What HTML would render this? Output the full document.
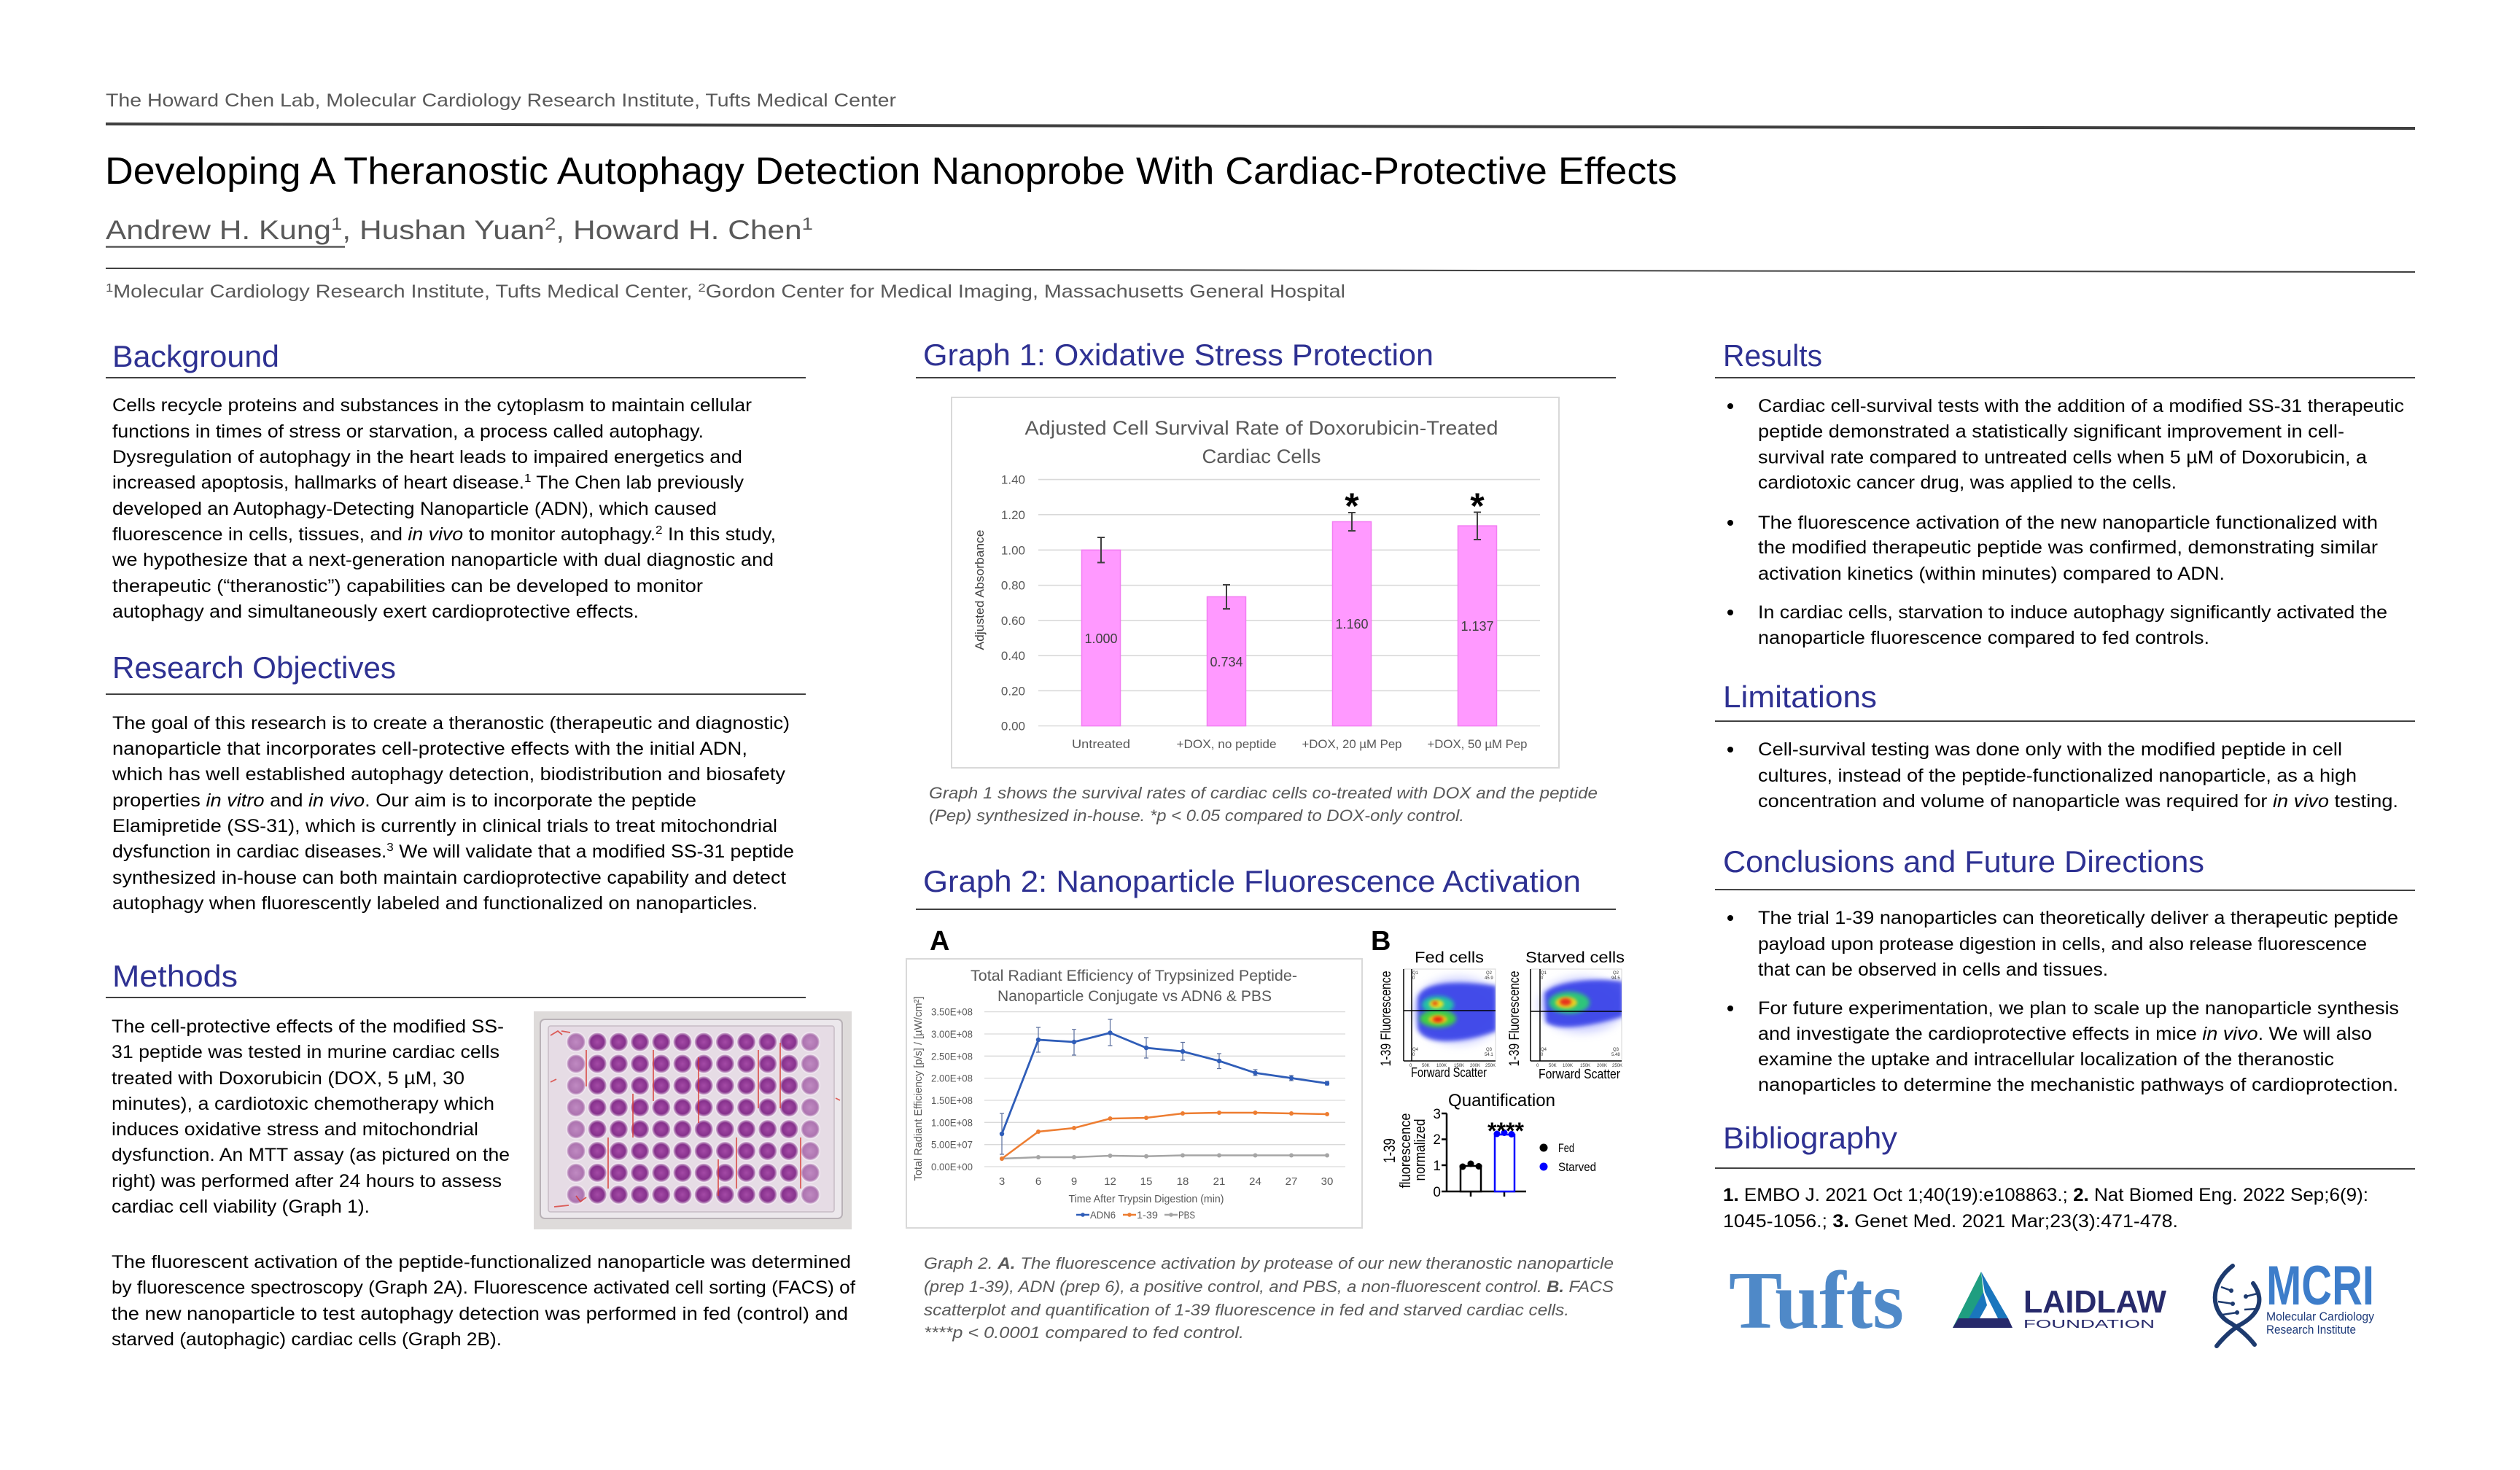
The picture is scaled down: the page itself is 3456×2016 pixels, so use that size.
<!DOCTYPE html>
<html><head><meta charset="utf-8">
<style>
html,body{margin:0;padding:0;background:#fff;}
svg{display:block;}
text{font-family:"Liberation Sans",sans-serif;}
.b{font-size:25px;fill:#000;}
.h{font-size:42px;fill:#2E3192;}
.cap{font-size:22px;fill:#595959;font-style:italic;}
.g{fill:#595959;}
</style></head>
<body>
<svg width="3456" height="2016" viewBox="0 0 3456 2016" xmlns="http://www.w3.org/2000/svg">
<defs>
<filter id="bl6" x="-30%" y="-30%" width="160%" height="160%"><feGaussianBlur stdDeviation="6"/></filter>
<filter id="bl3" x="-30%" y="-30%" width="160%" height="160%"><feGaussianBlur stdDeviation="3"/></filter>
<filter id="bl2" x="-30%" y="-30%" width="160%" height="160%"><feGaussianBlur stdDeviation="2"/></filter>
<clipPath id="cf"><rect x="1926" y="1330" width="125" height="125"/></clipPath>
<clipPath id="cs"><rect x="2100" y="1330" width="124" height="125"/></clipPath>
<radialGradient id="well" cx="50%" cy="50%" r="50%">
<stop offset="0%" stop-color="#a44aa6"/><stop offset="68%" stop-color="#86318c"/><stop offset="100%" stop-color="#e3d2e3"/>
</radialGradient>
<radialGradient id="wellL" cx="50%" cy="50%" r="50%">
<stop offset="0%" stop-color="#c08ac2"/><stop offset="75%" stop-color="#ad74b0"/><stop offset="100%" stop-color="#e6d8e6"/>
</radialGradient>
</defs>
<rect width="3456" height="2016" fill="#fff"/>

<!-- HEADER -->
<text x="145" y="146" font-size="25" class="g" textLength="1084" lengthAdjust="spacingAndGlyphs">The Howard Chen Lab, Molecular Cardiology Research Institute, Tufts Medical Center</text>
<line x1="145" y1="170" x2="3312" y2="176" stroke="#404040" stroke-width="4"/>
<text x="144" y="252" font-size="52" fill="#000" textLength="2156" lengthAdjust="spacingAndGlyphs">Developing A Theranostic Autophagy Detection Nanoprobe With Cardiac-Protective Effects</text>
<text x="145" y="328" font-size="37" class="g" textLength="970" lengthAdjust="spacingAndGlyphs">Andrew H. Kung<tspan dy="-13" font-size="24">1</tspan><tspan dy="13">, Hushan Yuan</tspan><tspan dy="-13" font-size="24">2</tspan><tspan dy="13">, Howard H. Chen</tspan><tspan dy="-13" font-size="24">1</tspan></text>
<line x1="145" y1="338.5" x2="473" y2="338.5" stroke="#595959" stroke-width="2.5"/>
<line x1="145" y1="368" x2="3312" y2="373" stroke="#404040" stroke-width="2"/>
<text x="145" y="408" font-size="25" class="g" textLength="1700" lengthAdjust="spacingAndGlyphs"><tspan dy="-8" font-size="16">1</tspan><tspan dy="8">Molecular Cardiology Research Institute, Tufts Medical Center, </tspan><tspan dy="-8" font-size="16">2</tspan><tspan dy="8">Gordon Center for Medical Imaging, Massachusetts General Hospital</tspan></text>

<!-- LEFT COLUMN -->
<text x="154" y="503" class="h" textLength="229" lengthAdjust="spacingAndGlyphs">Background</text>
<line x1="145" y1="518" x2="1105" y2="518" stroke="#404040" stroke-width="2"/>
<text x="154" y="564" class="b" textLength="877" lengthAdjust="spacingAndGlyphs">Cells recycle proteins and substances in the cytoplasm to maintain cellular</text>
<text x="154" y="600" class="b" textLength="811" lengthAdjust="spacingAndGlyphs">functions in times of stress or starvation, a process called autophagy.</text>
<text x="154" y="635" class="b" textLength="864" lengthAdjust="spacingAndGlyphs">Dysregulation of autophagy in the heart leads to impaired energetics and</text>
<text x="154" y="670" class="b" textLength="866" lengthAdjust="spacingAndGlyphs">increased apoptosis, hallmarks of heart disease.<tspan dy="-9" font-size="16">1</tspan><tspan dy="9"> The Chen lab previously</tspan></text>
<text x="154" y="706" class="b" textLength="829" lengthAdjust="spacingAndGlyphs">developed an Autophagy-Detecting Nanoparticle (ADN), which caused</text>
<text x="154" y="741" class="b" textLength="910" lengthAdjust="spacingAndGlyphs">fluorescence in cells, tissues, and <tspan font-style="italic">in vivo</tspan> to monitor autophagy.<tspan dy="-9" font-size="16">2</tspan><tspan dy="9"> In this study,</tspan></text>
<text x="154" y="776" class="b" textLength="907" lengthAdjust="spacingAndGlyphs">we hypothesize that a next-generation nanoparticle with dual diagnostic and</text>
<text x="154" y="812" class="b" textLength="810" lengthAdjust="spacingAndGlyphs">therapeutic (“theranostic”) capabilities can be developed to monitor</text>
<text x="154" y="847" class="b" textLength="722" lengthAdjust="spacingAndGlyphs">autophagy and simultaneously exert cardioprotective effects.</text>

<text x="154" y="930" class="h" textLength="389" lengthAdjust="spacingAndGlyphs">Research Objectives</text>
<line x1="145" y1="952" x2="1105" y2="952" stroke="#404040" stroke-width="2"/>
<text x="154" y="1000" class="b" textLength="929" lengthAdjust="spacingAndGlyphs">The goal of this research is to create a theranostic (therapeutic and diagnostic)</text>
<text x="154" y="1035" class="b" textLength="871" lengthAdjust="spacingAndGlyphs">nanoparticle that incorporates cell-protective effects with the initial ADN,</text>
<text x="154" y="1070" class="b" textLength="923" lengthAdjust="spacingAndGlyphs">which has well established autophagy detection, biodistribution and biosafety</text>
<text x="154" y="1106" class="b" textLength="801" lengthAdjust="spacingAndGlyphs">properties <tspan font-style="italic">in vitro</tspan> and <tspan font-style="italic">in vivo</tspan>. Our aim is to incorporate the peptide</text>
<text x="154" y="1141" class="b" textLength="912" lengthAdjust="spacingAndGlyphs">Elamipretide (SS-31), which is currently in clinical trials to treat mitochondrial</text>
<text x="154" y="1176" class="b" textLength="935" lengthAdjust="spacingAndGlyphs">dysfunction in cardiac diseases.<tspan dy="-9" font-size="16">3</tspan><tspan dy="9"> We will validate that a modified SS-31 peptide</tspan></text>
<text x="154" y="1212" class="b" textLength="924" lengthAdjust="spacingAndGlyphs">synthesized in-house can both maintain cardioprotective capability and detect</text>
<text x="154" y="1247" class="b" textLength="885" lengthAdjust="spacingAndGlyphs">autophagy when fluorescently labeled and functionalized on nanoparticles.</text>

<text x="154" y="1353" class="h" textLength="172" lengthAdjust="spacingAndGlyphs">Methods</text>
<line x1="145" y1="1368" x2="1105" y2="1368" stroke="#404040" stroke-width="2"/>
<text x="153" y="1416" class="b" textLength="538" lengthAdjust="spacingAndGlyphs">The cell-protective effects of the modified SS-</text>
<text x="153" y="1451" class="b" textLength="532" lengthAdjust="spacingAndGlyphs">31 peptide was tested in murine cardiac cells</text>
<text x="153" y="1487" class="b" textLength="484" lengthAdjust="spacingAndGlyphs">treated with Doxorubicin (DOX, 5 µM, 30</text>
<text x="153" y="1522" class="b" textLength="525" lengthAdjust="spacingAndGlyphs">minutes), a cardiotoxic chemotherapy which</text>
<text x="153" y="1557" class="b" textLength="503" lengthAdjust="spacingAndGlyphs">induces oxidative stress and mitochondrial</text>
<text x="153" y="1592" class="b" textLength="546" lengthAdjust="spacingAndGlyphs">dysfunction. An MTT assay (as pictured on the</text>
<text x="153" y="1628" class="b" textLength="535" lengthAdjust="spacingAndGlyphs">right) was performed after 24 hours to assess</text>
<text x="153" y="1663" class="b" textLength="354" lengthAdjust="spacingAndGlyphs">cardiac cell viability (Graph 1).</text>
<text x="153" y="1739" class="b" textLength="1014" lengthAdjust="spacingAndGlyphs">The fluorescent activation of the peptide-functionalized nanoparticle was determined</text>
<text x="153" y="1774" class="b" textLength="1020" lengthAdjust="spacingAndGlyphs">by fluorescence spectroscopy (Graph 2A). Fluorescence activated cell sorting (FACS) of</text>
<text x="153" y="1810" class="b" textLength="1010" lengthAdjust="spacingAndGlyphs">the new nanoparticle to test autophagy detection was performed in fed (control) and</text>
<text x="153" y="1845" class="b" textLength="535" lengthAdjust="spacingAndGlyphs">starved (autophagic) cardiac cells (Graph 2B).</text>

<!-- Plate photo -->
<rect x="732" y="1387" width="436" height="299" fill="#dedbda"/>
<rect x="741" y="1398" width="414" height="273" rx="6" fill="#ece8ec" stroke="#b9b2b7" stroke-width="2"/>
<rect x="752" y="1407" width="392" height="255" rx="3" fill="#e6dce5" stroke="#c7bcc5" stroke-width="1.5"/>
<g id="wells"></g>

<!-- MIDDLE COLUMN -->
<text x="1266" y="501" class="h" textLength="700" lengthAdjust="spacingAndGlyphs">Graph 1: Oxidative Stress Protection</text>
<line x1="1256" y1="518" x2="2216" y2="518" stroke="#404040" stroke-width="2"/>
<rect x="1305" y="545" width="833" height="508" fill="#fff" stroke="#d9d9d9" stroke-width="2"/>
<text x="1730" y="596" font-size="27" class="g" text-anchor="middle" textLength="649" lengthAdjust="spacingAndGlyphs">Adjusted Cell Survival Rate of Doxorubicin-Treated</text>
<text x="1730" y="635" font-size="27" class="g" text-anchor="middle" textLength="163" lengthAdjust="spacingAndGlyphs">Cardiac Cells</text>
<g stroke="#d9d9d9" stroke-width="1.6">
<line x1="1424" y1="657.6" x2="2112" y2="657.6"/><line x1="1424" y1="705.8" x2="2112" y2="705.8"/>
<line x1="1424" y1="754.3" x2="2112" y2="754.3"/><line x1="1424" y1="802.7" x2="2112" y2="802.7"/>
<line x1="1424" y1="850.9" x2="2112" y2="850.9"/><line x1="1424" y1="899.1" x2="2112" y2="899.1"/>
<line x1="1424" y1="947.3" x2="2112" y2="947.3"/><line x1="1424" y1="995.5" x2="2112" y2="995.5"/>
</g>
<g font-size="17" class="g" text-anchor="end">
<text x="1406" y="663.6">1.40</text><text x="1406" y="711.8">1.20</text><text x="1406" y="760.3">1.00</text>
<text x="1406" y="808.7">0.80</text><text x="1406" y="856.9">0.60</text><text x="1406" y="905.1">0.40</text>
<text x="1406" y="953.3">0.20</text><text x="1406" y="1001.5">0.00</text>
</g>
<text transform="translate(1349,809) rotate(-90)" text-anchor="middle" font-size="17" fill="#404040" textLength="165" lengthAdjust="spacingAndGlyphs">Adjusted Absorbance</text>
<g fill="#FF99FF" stroke="#F27DF2" stroke-width="1.5">
<rect x="1483.5" y="754.3" width="53" height="241.2"/>
<rect x="1655.5" y="818.4" width="53" height="177.1"/>
<rect x="1827.5" y="715.5" width="53" height="280"/>
<rect x="1999.5" y="721.1" width="53" height="274.4"/>
</g>
<g stroke="#404040" stroke-width="2">
<line x1="1510" y1="737" x2="1510" y2="771.5"/><line x1="1505" y1="737" x2="1515" y2="737"/><line x1="1505" y1="771.5" x2="1515" y2="771.5"/>
<line x1="1682" y1="802" x2="1682" y2="835"/><line x1="1677" y1="802" x2="1687" y2="802"/><line x1="1677" y1="835" x2="1687" y2="835"/>
<line x1="1854" y1="703" x2="1854" y2="728"/><line x1="1849" y1="703" x2="1859" y2="703"/><line x1="1849" y1="728" x2="1859" y2="728"/>
<line x1="2026" y1="702.5" x2="2026" y2="740"/><line x1="2021" y1="702.5" x2="2031" y2="702.5"/><line x1="2021" y1="740" x2="2031" y2="740"/>
</g>
<g font-size="18" fill="#404040" text-anchor="middle">
<text x="1510" y="882">1.000</text><text x="1682" y="914">0.734</text><text x="1854" y="862">1.160</text><text x="2026" y="865">1.137</text>
</g>
<g font-size="50" font-weight="bold" fill="#000" text-anchor="middle">
<text x="1854" y="711">*</text><text x="2026" y="711">*</text>
</g>
<g font-size="17" class="g" text-anchor="middle">
<text x="1510" y="1026" textLength="80" lengthAdjust="spacingAndGlyphs">Untreated</text>
<text x="1682" y="1026" textLength="137" lengthAdjust="spacingAndGlyphs">+DOX, no peptide</text>
<text x="1854" y="1026" textLength="137" lengthAdjust="spacingAndGlyphs">+DOX, 20 µM Pep</text>
<text x="2026" y="1026" textLength="137" lengthAdjust="spacingAndGlyphs">+DOX, 50 µM Pep</text>
</g>
<text x="1274" y="1095" class="cap" textLength="917" lengthAdjust="spacingAndGlyphs">Graph 1 shows the survival rates of cardiac cells co-treated with DOX and the peptide</text>
<text x="1274" y="1126" class="cap" textLength="734" lengthAdjust="spacingAndGlyphs">(Pep) synthesized in-house. *p &lt; 0.05 compared to DOX-only control.</text>

<text x="1266" y="1223" class="h" textLength="902" lengthAdjust="spacingAndGlyphs">Graph 2: Nanoparticle Fluorescence Activation</text>
<line x1="1256" y1="1247" x2="2216" y2="1247" stroke="#404040" stroke-width="2"/>
<text x="1275" y="1303" font-size="38" font-weight="bold" fill="#000">A</text>
<text x="1880" y="1303" font-size="38" font-weight="bold" fill="#000">B</text>

<!-- Chart A -->
<rect x="1243" y="1315" width="625" height="369" fill="#fff" stroke="#d9d9d9" stroke-width="2"/>
<text x="1331" y="1345" font-size="21" class="g" textLength="448" lengthAdjust="spacingAndGlyphs">Total Radiant Efficiency of Trypsinized Peptide-</text>
<text x="1368" y="1373" font-size="21" class="g" textLength="376" lengthAdjust="spacingAndGlyphs">Nanoparticle Conjugate vs ADN6 &amp; PBS</text>
<g stroke="#d9d9d9" stroke-width="1.3">
<line x1="1350" y1="1387.6" x2="1845" y2="1387.6"/><line x1="1350" y1="1418" x2="1845" y2="1418"/>
<line x1="1350" y1="1448.3" x2="1845" y2="1448.3"/><line x1="1350" y1="1478.6" x2="1845" y2="1478.6"/>
<line x1="1350" y1="1509" x2="1845" y2="1509"/><line x1="1350" y1="1539.3" x2="1845" y2="1539.3"/>
<line x1="1350" y1="1569.7" x2="1845" y2="1569.7"/><line x1="1350" y1="1600" x2="1845" y2="1600"/>
</g>
<g font-size="14" class="g" text-anchor="end">
<text x="1334" y="1392.6" textLength="57" lengthAdjust="spacingAndGlyphs">3.50E+08</text>
<text x="1334" y="1423" textLength="57" lengthAdjust="spacingAndGlyphs">3.00E+08</text>
<text x="1334" y="1453.3" textLength="57" lengthAdjust="spacingAndGlyphs">2.50E+08</text>
<text x="1334" y="1483.6" textLength="57" lengthAdjust="spacingAndGlyphs">2.00E+08</text>
<text x="1334" y="1514" textLength="57" lengthAdjust="spacingAndGlyphs">1.50E+08</text>
<text x="1334" y="1544.3" textLength="57" lengthAdjust="spacingAndGlyphs">1.00E+08</text>
<text x="1334" y="1574.7" textLength="57" lengthAdjust="spacingAndGlyphs">5.00E+07</text>
<text x="1334" y="1605" textLength="57" lengthAdjust="spacingAndGlyphs">0.00E+00</text>
</g>
<text transform="translate(1264,1493) rotate(-90)" text-anchor="middle" font-size="15" class="g" textLength="253" lengthAdjust="spacingAndGlyphs">Total Radiant Efficiency [p/s] / [µW/cm²]</text>
<g font-size="15" class="g" text-anchor="middle">
<text x="1374" y="1625">3</text><text x="1424" y="1625">6</text><text x="1473" y="1625">9</text><text x="1522.5" y="1625">12</text><text x="1572" y="1625">15</text>
<text x="1622" y="1625">18</text><text x="1672" y="1625">21</text><text x="1721.5" y="1625">24</text><text x="1771" y="1625">27</text><text x="1820" y="1625">30</text>
</g>
<text x="1572" y="1649" font-size="15" class="g" text-anchor="middle" textLength="213" lengthAdjust="spacingAndGlyphs">Time After Trypsin Digestion (min)</text>
<g stroke="#5b6f9e" stroke-width="1.2">
<path d="M1374 1527V1583M1371 1527h6M1371 1583h6 M1424 1409V1443M1421 1409h6M1421 1443h6 M1473 1411.7V1447M1470 1411.7h6M1470 1447h6 M1522.5 1398V1434M1519.5 1398h6M1519.5 1434h6 M1572 1423V1451M1569 1423h6M1569 1451h6 M1622 1429.5V1454M1619 1429.5h6M1619 1454h6 M1672 1445V1465.5M1669 1445h6M1669 1465.5h6 M1721.5 1467V1475M1718.5 1467h6M1718.5 1475h6 M1771 1475V1482M1768 1475h6M1768 1482h6 M1820 1483V1488M1817 1483h6M1817 1488h6"/>
</g>
<polyline fill="none" stroke="#A5A5A5" stroke-width="2.5" points="1374,1589 1424,1587 1473,1587 1522.5,1585 1572,1585.7 1622,1584.5 1672,1584.5 1721.5,1584.5 1771,1584.5 1820,1584.5"/>
<polyline fill="none" stroke="#ED7D31" stroke-width="2.5" points="1374,1589 1424,1552 1473,1547 1522.5,1534 1572,1533 1622,1527 1672,1526 1721.5,1526 1771,1527 1820,1528"/>
<polyline fill="none" stroke="#2F5DB8" stroke-width="2.8" points="1374,1555 1424,1426 1473,1429 1522.5,1416.5 1572,1437 1622,1442 1672,1455 1721.5,1471.4 1771,1478.5 1820,1485.7"/>
<g fill="#A5A5A5"><circle cx="1374" cy="1589" r="3"/><circle cx="1424" cy="1587" r="3"/><circle cx="1473" cy="1587" r="3"/><circle cx="1522.5" cy="1585" r="3"/><circle cx="1572" cy="1585.7" r="3"/><circle cx="1622" cy="1584.5" r="3"/><circle cx="1672" cy="1584.5" r="3"/><circle cx="1721.5" cy="1584.5" r="3"/><circle cx="1771" cy="1584.5" r="3"/><circle cx="1820" cy="1584.5" r="3"/></g>
<g fill="#ED7D31"><circle cx="1374" cy="1589" r="3"/><circle cx="1424" cy="1552" r="3"/><circle cx="1473" cy="1547" r="3"/><circle cx="1522.5" cy="1534" r="3"/><circle cx="1572" cy="1533" r="3"/><circle cx="1622" cy="1527" r="3"/><circle cx="1672" cy="1526" r="3"/><circle cx="1721.5" cy="1526" r="3"/><circle cx="1771" cy="1527" r="3"/><circle cx="1820" cy="1528" r="3"/></g>
<g fill="#2F5DB8"><circle cx="1374" cy="1555" r="3.2"/><circle cx="1424" cy="1426" r="3.2"/><circle cx="1473" cy="1429" r="3.2"/><circle cx="1522.5" cy="1416.5" r="3.2"/><circle cx="1572" cy="1437" r="3.2"/><circle cx="1622" cy="1442" r="3.2"/><circle cx="1672" cy="1455" r="3.2"/><circle cx="1721.5" cy="1471.4" r="3.2"/><circle cx="1771" cy="1478.5" r="3.2"/><circle cx="1820" cy="1485.7" r="3.2"/></g>
<line x1="1476" y1="1666" x2="1494" y2="1666" stroke="#2F5DB8" stroke-width="2.5"/><circle cx="1485" cy="1666" r="2.8" fill="#2F5DB8"/>
<text x="1495" y="1671" font-size="14" class="g" textLength="35" lengthAdjust="spacingAndGlyphs">ADN6</text>
<line x1="1540" y1="1666" x2="1558" y2="1666" stroke="#ED7D31" stroke-width="2.5"/><circle cx="1549" cy="1666" r="2.8" fill="#ED7D31"/>
<text x="1559" y="1671" font-size="14" class="g" textLength="29" lengthAdjust="spacingAndGlyphs">1-39</text>
<line x1="1597" y1="1666" x2="1615" y2="1666" stroke="#A5A5A5" stroke-width="2.5"/><circle cx="1606" cy="1666" r="2.8" fill="#A5A5A5"/>
<text x="1616" y="1671" font-size="14" class="g" textLength="23" lengthAdjust="spacingAndGlyphs">PBS</text>

<!-- B: FACS -->
<text x="1940" y="1320" font-size="21" fill="#000" textLength="95" lengthAdjust="spacingAndGlyphs">Fed cells</text>
<text x="2092" y="1320" font-size="21" fill="#000" textLength="136" lengthAdjust="spacingAndGlyphs">Starved cells</text>
<rect x="1925" y="1329" width="126" height="126" fill="#fff" stroke="#d5d5d5" stroke-width="1"/>
<rect x="2099" y="1329" width="125" height="126" fill="#fff" stroke="#d5d5d5" stroke-width="1"/>
<g clip-path="url(#cf)">
<ellipse cx="2000" cy="1386" rx="62" ry="46" fill="#b8bcff" opacity="0.7" filter="url(#bl6)"/>
<path d="M1944,1372 C1944,1348 1990,1343 2052,1352 L2052,1414 C2010,1430 1952,1436 1944,1410 Z" fill="#2a36e6" opacity="0.85" filter="url(#bl3)"/>
<ellipse cx="1972" cy="1378" rx="22" ry="12" fill="#22c3a6" filter="url(#bl3)"/>
<ellipse cx="1972" cy="1397" rx="25" ry="12" fill="#3fcf45" filter="url(#bl3)"/>
<ellipse cx="1970" cy="1377" rx="10" ry="6" fill="#e6e020" filter="url(#bl2)"/>
<ellipse cx="1972" cy="1398" rx="13" ry="6" fill="#f0c21e" filter="url(#bl2)"/>
<ellipse cx="1972" cy="1398" rx="7" ry="4" fill="#e82a10" filter="url(#bl2)"/>
<ellipse cx="1968" cy="1376" rx="4" ry="3" fill="#e24a12" filter="url(#bl2)"/>
</g>
<g clip-path="url(#cs)">
<ellipse cx="2170" cy="1378" rx="60" ry="38" fill="#b8bcff" opacity="0.7" filter="url(#bl6)"/>
<path d="M2118,1362 C2130,1346 2190,1340 2226,1346 L2226,1394 C2190,1405 2140,1416 2120,1402 Z" fill="#2a36e6" opacity="0.85" filter="url(#bl3)"/>
<ellipse cx="2152" cy="1375" rx="28" ry="15" fill="#2fc67a" filter="url(#bl3)"/>
<ellipse cx="2148" cy="1375" rx="15" ry="8" fill="#e8d020" filter="url(#bl2)"/>
<ellipse cx="2147" cy="1374" rx="8" ry="5" fill="#e8301a" filter="url(#bl2)"/>
</g>
<g stroke="#000" stroke-width="1.5">
<line x1="1925" y1="1386" x2="2051" y2="1386"/><line x1="1936" y1="1329" x2="1936" y2="1455"/>
<line x1="2099" y1="1387" x2="2224" y2="1387"/><line x1="2112" y1="1329" x2="2112" y2="1455"/>
<line x1="1925" y1="1329" x2="1925" y2="1455"/><line x1="1925" y1="1455" x2="2051" y2="1455"/>
<line x1="2099" y1="1329" x2="2099" y2="1455"/><line x1="2099" y1="1455" x2="2224" y2="1455"/>
</g>
<g font-size="6" fill="#333">
<text x="1937" y="1336">Q1</text><text x="1937" y="1343">0</text><text x="2038" y="1336">Q2</text><text x="2036" y="1343">45.9</text>
<text x="1937" y="1441">Q4</text><text x="1937" y="1448">0</text><text x="2038" y="1441">Q3</text><text x="2036" y="1448">54.1</text>
<text x="2113" y="1336">Q1</text><text x="2113" y="1343">0</text><text x="2212" y="1336">Q2</text><text x="2210" y="1343">94.5</text>
<text x="2113" y="1441">Q4</text><text x="2113" y="1448">0</text><text x="2212" y="1441">Q3</text><text x="2210" y="1448">5.48</text>
<text x="1933" y="1463">0</text><text x="1950" y="1463">50K</text><text x="1970" y="1463">100K</text><text x="1994" y="1463">150K</text><text x="2016" y="1463">200K</text><text x="2037" y="1463">250K</text>
<text x="2107" y="1463">0</text><text x="2124" y="1463">50K</text><text x="2143" y="1463">100K</text><text x="2167" y="1463">150K</text><text x="2190" y="1463">200K</text><text x="2211" y="1463">250K</text>
</g>
<text transform="translate(1907,1397) rotate(-90)" text-anchor="middle" font-size="19" fill="#000" textLength="131" lengthAdjust="spacingAndGlyphs">1-39 Fluorescence</text>
<text transform="translate(2083,1397) rotate(-90)" text-anchor="middle" font-size="19" fill="#000" textLength="131" lengthAdjust="spacingAndGlyphs">1-39 Fluorescence</text>
<text x="1935" y="1477" font-size="18" fill="#000" textLength="104" lengthAdjust="spacingAndGlyphs">Forward Scatter</text>
<text x="2110" y="1479" font-size="18" fill="#000" textLength="112" lengthAdjust="spacingAndGlyphs">Forward Scatter</text>

<!-- Quantification -->
<text x="1986" y="1517" font-size="24" fill="#000" textLength="147" lengthAdjust="spacingAndGlyphs">Quantification</text>
<g stroke="#000" stroke-width="2.5" fill="none">
<line x1="1984" y1="1527" x2="1984" y2="1634"/><line x1="1984" y1="1634" x2="2093" y2="1634"/>
<line x1="1977" y1="1527" x2="1984" y2="1527"/><line x1="1977" y1="1562.5" x2="1984" y2="1562.5"/>
<line x1="1977" y1="1598" x2="1984" y2="1598"/><line x1="1977" y1="1634" x2="1984" y2="1634"/>
<line x1="2017" y1="1634" x2="2017" y2="1641"/><line x1="2063" y1="1634" x2="2063" y2="1641"/>
<rect x="2003" y="1599" width="28" height="35" fill="#fff"/>
</g>
<rect x="2050" y="1556" width="27" height="78" fill="#fff" stroke="#0000ff" stroke-width="2.5"/>
<g font-size="19" fill="#000" text-anchor="end">
<text x="1976" y="1534">3</text><text x="1976" y="1569">2</text><text x="1976" y="1605">1</text><text x="1976" y="1641">0</text>
</g>
<g fill="#000"><circle cx="2006" cy="1600" r="4.5"/><circle cx="2017" cy="1596" r="4.5"/><circle cx="2028" cy="1599.5" r="4.5"/></g>
<g fill="#0000ff"><circle cx="2053" cy="1555" r="4.5"/><circle cx="2063" cy="1553.5" r="4.5"/><circle cx="2073" cy="1555.5" r="4.5"/></g>
<text x="2065" y="1562" font-size="32" font-weight="bold" fill="#000" text-anchor="middle" textLength="50" lengthAdjust="spacingAndGlyphs">****</text>
<circle cx="2117" cy="1574" r="5.5" fill="#000"/><text x="2137" y="1580" font-size="17" fill="#000" textLength="22" lengthAdjust="spacingAndGlyphs">Fed</text>
<circle cx="2117" cy="1600" r="5.5" fill="#0000ff"/><text x="2137" y="1606" font-size="17" fill="#000" textLength="52" lengthAdjust="spacingAndGlyphs">Starved</text>
<text transform="translate(1913,1578) rotate(-90)" text-anchor="middle" font-size="22" fill="#000" textLength="34" lengthAdjust="spacingAndGlyphs">1-39</text>
<text transform="translate(1934,1578) rotate(-90)" text-anchor="middle" font-size="20" fill="#000" textLength="103" lengthAdjust="spacingAndGlyphs">fluorescence</text>
<text transform="translate(1954,1577) rotate(-90)" text-anchor="middle" font-size="20" fill="#000" textLength="85" lengthAdjust="spacingAndGlyphs">normalized</text>

<text x="1267" y="1740" class="cap" textLength="946" lengthAdjust="spacingAndGlyphs">Graph 2. <tspan font-weight="bold">A.</tspan> The fluorescence activation by protease of our new theranostic nanoparticle</text>
<text x="1267" y="1772" class="cap" textLength="946" lengthAdjust="spacingAndGlyphs">(prep 1-39), ADN (prep 6), a positive control, and PBS, a non-fluorescent control. <tspan font-weight="bold">B.</tspan> FACS</text>
<text x="1267" y="1804" class="cap" textLength="885" lengthAdjust="spacingAndGlyphs">scatterplot and quantification of 1-39 fluorescence in fed and starved cardiac cells.</text>
<text x="1267" y="1835" class="cap" textLength="439" lengthAdjust="spacingAndGlyphs">****p &lt; 0.0001 compared to fed control.</text>

<!-- RIGHT COLUMN -->
<text x="2363" y="502" class="h" textLength="136" lengthAdjust="spacingAndGlyphs">Results</text>
<line x1="2352" y1="518" x2="3312" y2="518" stroke="#404040" stroke-width="2"/>
<g fill="#000"><circle cx="2373" cy="557" r="4"/><circle cx="2373" cy="717" r="4"/><circle cx="2373" cy="840" r="4"/><circle cx="2373" cy="1028" r="4"/><circle cx="2373" cy="1259" r="4"/><circle cx="2373" cy="1383" r="4"/></g>
<text x="2411" y="565" class="b" textLength="886" lengthAdjust="spacingAndGlyphs">Cardiac cell-survival tests with the addition of a modified SS-31 therapeutic</text>
<text x="2411" y="600" class="b" textLength="804" lengthAdjust="spacingAndGlyphs">peptide demonstrated a statistically significant improvement in cell-</text>
<text x="2411" y="635.5" class="b" textLength="835" lengthAdjust="spacingAndGlyphs">survival rate compared to untreated cells when 5 µM of Doxorubicin, a</text>
<text x="2411" y="670" class="b" textLength="574" lengthAdjust="spacingAndGlyphs">cardiotoxic cancer drug, was applied to the cells.</text>
<text x="2411" y="725" class="b" textLength="850" lengthAdjust="spacingAndGlyphs">The fluorescence activation of the new nanoparticle functionalized with</text>
<text x="2411" y="759" class="b" textLength="850" lengthAdjust="spacingAndGlyphs">the modified therapeutic peptide was confirmed, demonstrating similar</text>
<text x="2411" y="795" class="b" textLength="640" lengthAdjust="spacingAndGlyphs">activation kinetics (within minutes) compared to ADN.</text>
<text x="2411" y="848" class="b" textLength="863" lengthAdjust="spacingAndGlyphs">In cardiac cells, starvation to induce autophagy significantly activated the</text>
<text x="2411" y="883" class="b" textLength="619" lengthAdjust="spacingAndGlyphs">nanoparticle fluorescence compared to fed controls.</text>

<text x="2363" y="970" class="h" textLength="211" lengthAdjust="spacingAndGlyphs">Limitations</text>
<line x1="2352" y1="989" x2="3312" y2="989" stroke="#404040" stroke-width="2"/>
<text x="2411" y="1036" class="b" textLength="801" lengthAdjust="spacingAndGlyphs">Cell-survival testing was done only with the modified peptide in cell</text>
<text x="2411" y="1072" class="b" textLength="821" lengthAdjust="spacingAndGlyphs">cultures, instead of the peptide-functionalized nanoparticle, as a high</text>
<text x="2411" y="1107" class="b" textLength="878" lengthAdjust="spacingAndGlyphs">concentration and volume of nanoparticle was required for <tspan font-style="italic">in vivo</tspan> testing.</text>

<text x="2363" y="1196" class="h" textLength="660" lengthAdjust="spacingAndGlyphs">Conclusions and Future Directions</text>
<line x1="2352" y1="1220" x2="3312" y2="1221" stroke="#404040" stroke-width="2"/>
<text x="2411" y="1267" class="b" textLength="878" lengthAdjust="spacingAndGlyphs">The trial 1-39 nanoparticles can theoretically deliver a therapeutic peptide</text>
<text x="2411" y="1303" class="b" textLength="835" lengthAdjust="spacingAndGlyphs">payload upon protease digestion in cells, and also release fluorescence</text>
<text x="2411" y="1338" class="b" textLength="480" lengthAdjust="spacingAndGlyphs">that can be observed in cells and tissues.</text>
<text x="2411" y="1391" class="b" textLength="879" lengthAdjust="spacingAndGlyphs">For future experimentation, we plan to scale up the nanoparticle synthesis</text>
<text x="2411" y="1426" class="b" textLength="842" lengthAdjust="spacingAndGlyphs">and investigate the cardioprotective effects in mice <tspan font-style="italic">in vivo</tspan>. We will also</text>
<text x="2411" y="1461" class="b" textLength="790" lengthAdjust="spacingAndGlyphs">examine the uptake and intracellular localization of the theranostic</text>
<text x="2411" y="1496" class="b" textLength="878" lengthAdjust="spacingAndGlyphs">nanoparticles to determine the mechanistic pathways of cardioprotection.</text>

<text x="2363" y="1575" class="h" textLength="239" lengthAdjust="spacingAndGlyphs">Bibliography</text>
<line x1="2352" y1="1602" x2="3312" y2="1603" stroke="#404040" stroke-width="2"/>
<text x="2363" y="1647" class="b" textLength="885" lengthAdjust="spacingAndGlyphs"><tspan font-weight="bold">1.</tspan> EMBO J. 2021 Oct 1;40(19):e108863.; <tspan font-weight="bold">2.</tspan> Nat Biomed Eng. 2022 Sep;6(9):</text>
<text x="2363" y="1683" class="b" textLength="624" lengthAdjust="spacingAndGlyphs">1045-1056.; <tspan font-weight="bold">3.</tspan> Genet Med. 2021 Mar;23(3):471-478.</text>

<!-- Logos -->
<text x="2371" y="1821" font-size="112" font-weight="bold" fill="#4F89C8" textLength="240" lengthAdjust="spacingAndGlyphs" style="font-family:'Liberation Serif',serif">Tufts</text>
<polygon points="2717,1744 2678,1821 2697,1821 2720,1772" fill="#1f9e80"/>
<polygon points="2717,1744 2722,1772 2740,1808 2754,1808" fill="#1a76bd"/>
<polygon points="2720,1772 2700,1808 2715,1808 2725,1790" fill="#1a76bd"/>
<polygon points="2678,1821 2686,1808 2754,1808 2760,1821" fill="#272a6b"/>
<text x="2775" y="1800" font-size="44" font-weight="bold" fill="#272a6b" textLength="196" lengthAdjust="spacingAndGlyphs">LAIDLAW</text>
<text x="2775" y="1821" font-size="16" fill="#272a6b" textLength="180" lengthAdjust="spacingAndGlyphs">FOUNDATION</text>
<g fill="none" stroke="#1d3a6e" stroke-width="6" stroke-linecap="round">
<path d="M3062,1736 C3030,1760 3030,1800 3060,1815 C3075,1825 3085,1835 3092,1844"/>
<path d="M3090,1760 C3108,1785 3095,1805 3070,1818 C3058,1826 3048,1836 3040,1846"/>
</g>
<g stroke="#1d3a6e" stroke-width="2.5">
<line x1="3046" y1="1765" x2="3060" y2="1770"/><line x1="3042" y1="1785" x2="3062" y2="1788"/><line x1="3048" y1="1803" x2="3068" y2="1800"/><line x1="3080" y1="1778" x2="3096" y2="1774"/><line x1="3078" y1="1796" x2="3096" y2="1795"/>
</g>
<g fill="#1d3a6e"><circle cx="3060" cy="1770" r="3"/><circle cx="3062" cy="1788" r="3"/><circle cx="3068" cy="1800" r="3"/><circle cx="3080" cy="1778" r="3"/></g>
<text x="3108" y="1789" font-size="76" font-weight="bold" fill="#3D7DCA" textLength="148" lengthAdjust="spacingAndGlyphs">MCRI</text>
<text x="3108" y="1811" font-size="17" fill="#1d3a7a" textLength="148" lengthAdjust="spacingAndGlyphs">Molecular Cardiology</text>
<text x="3108" y="1829" font-size="17" fill="#1d3a7a" textLength="123" lengthAdjust="spacingAndGlyphs">Research Institute</text>
</svg>
<script>
(function(){
  var g=document.getElementById('wells');var s='';
  for(var r=0;r<8;r++){for(var c=0;c<12;c++){
    var x=790+c*29.2, y=1429+r*29.9;
    var f=(c==0||c==11)?'url(#wellL)':'url(#well)';
    s+='<circle cx="'+x+'" cy="'+y+'" r="13.3" fill="'+f+'" stroke="#f0e6f0" stroke-width="1.6"/>';
  }}
  s+='<g stroke="#d8322a" stroke-width="1.8" fill="none" opacity="0.75">'+
     '<path d="M755 1420 l10 -6 l6 5"/><path d="M770 1414 l12 2"/><path d="M790 1640 l6 8 l8 -6"/>'+
     '<path d="M763 1480 l-8 4"/><path d="M1146 1506 l6 3"/><path d="M760 1655 l20 -2"/>'+
     '<path d="M804 1440 l0 50"/><path d="M834 1560 l0 70"/><path d="M868 1500 l0 60"/><path d="M896 1440 l0 70"/>'+
     '<path d="M958 1450 l0 90"/><path d="M985 1590 l0 50"/><path d="M1010 1560 l0 70"/><path d="M1040 1440 l0 80"/>'+
     '<path d="M1070 1430 l0 90"/><path d="M1098 1560 l0 70"/></g>';
  g.innerHTML=s;
})();
</script>
</body></html>
